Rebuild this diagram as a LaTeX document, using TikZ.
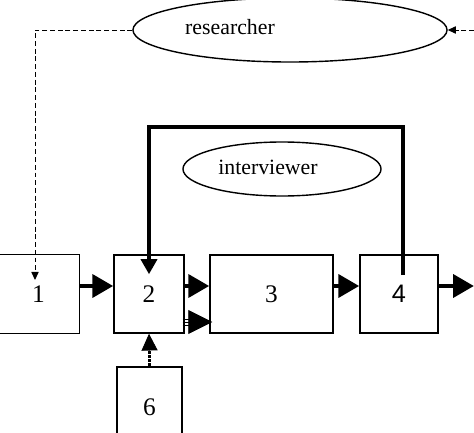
\documentclass[tikz,border=0pt]{standalone}
\usepackage{fontspec}
\setmainfont{Liberation Serif}
\newfontfamily\arialfont{Liberation Sans}
\usetikzlibrary{arrows.meta,shapes.geometric,positioning,calc}
\tikzset{
  every picture/.style={line join=miter, >=Stealth},
  box/.style={draw, line width=1pt, inner sep=0pt, font=\fontsize{18}{20}\selectfont},
  oval/.style={draw, ellipse, line width=1pt, inner sep=0pt},
  word/.style={font=\fontsize{15.5}{18}\selectfont, inner sep=0pt},
  fat/.style={line width=3.5pt, -{Triangle[length=0.52cm,width=0.56cm]}},
  bighead/.style={line width=0.6pt, -{Triangle[length=0.6cm,width=0.6cm]}},
  uphead/.style={line width=0.6pt, -{Triangle[length=0.42cm,width=0.4cm]}},
  loopline/.style={line width=3.2pt, -{Triangle[length=0.38cm,width=0.4cm]}},
  dashline/.style={dash pattern=on 3.5pt off 2pt, line width=0.7pt, -{Triangle[length=0.2cm,width=0.18cm]}},
}

\begin{document}
\begin{tikzpicture}[x=0.025cm,y=-0.025cm]
\useasboundingbox (0,0) rectangle (474,433);
\node[oval, minimum width=7.85cm, minimum height=1.6cm] (res) at (290,30) {};
\node[word] (restext) at (230,27) {researcher};
\node[oval, minimum width=4.95cm, minimum height=1.35cm] (intv) at (282,169) {};
\node[word] (intvtext) at (268,167) {interviewer};
\node[box, minimum width=2.05cm, minimum height=1.975cm] (b1) at (38.5,294) {1};
\node[box, minimum width=1.75cm, minimum height=1.95cm] (b2) at (149,294) {2};
\node[box, minimum width=3.075cm, minimum height=1.95cm] (b3) at (271.5,294) {3};
\node[box, minimum width=1.95cm, minimum height=1.95cm, font=\arialfont\fontsize{18}{20}\selectfont] (b4) at (399,294) {4};
\node[box, minimum width=1.625cm, minimum height=2cm] (b6) at (149.5,407) {6};
% main row
\coordinate (row) at (0,286);
\coordinate (out) at (474,286);
\draw[fat] (b1.east |- row) -- (b2.west |- row);
\draw[fat] (b2.east |- row) -- (b3.west |- row);
\draw[fat] (b3.east |- row) -- (b4.west |- row);
\draw[fat] (b4.east |- row) -- (out);
% lower arrow 2 to 3
\coordinate (low) at (0,322);
\foreach \dy in {-3,0,3}
  \draw[line width=0.6pt] ($(b2.east |- low)+(-2,\dy)$) -- ++(8,0);
\draw[bighead] ($(b2.east |- low)+(5,0)$) -- ($(b3.west |- low)+(3,0)$);
% 6 to 2
\draw[densely dotted, line width=2pt] (b6.north) -- ++(0,-17);
\draw[uphead] ($(b6.north)+(0,-17)$) -- (b2.south);
% feedback 4 to 2
\coordinate (fb4) at (403,275);
\coordinate (top) at (403,127);
\coordinate (fb2) at ($(b2.north)+(0,20)$);
\draw[loopline] (fb4) -- (top) -| (fb2);
% researcher
\coordinate (rin) at (474,30);
\coordinate (din) at (35,280);
\draw[dashline] (rin) -- (res.east);
\draw[dashline] (res.west) -| (din);
\end{tikzpicture}
\end{document}
